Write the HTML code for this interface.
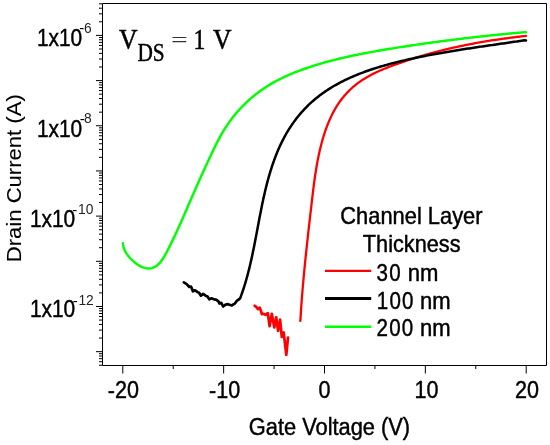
<!DOCTYPE html>
<html><head><meta charset="utf-8"><style>
html,body{margin:0;padding:0;background:#fff;width:550px;height:445px;overflow:hidden}
svg{display:block}
</style></head><body>
<svg width="550" height="445" viewBox="0 0 550 445"><path d="M102.5 3.5H546.5V365.5H102.5Z" fill="none" stroke="#000" stroke-width="1"/>
<path d="M99 365.26H102.5 M99 361.68H102.5 M99 358.66H102.5 M99 356.04H102.5 M99 353.73H102.5 M96 351.66H102.5 M99 338.06H102.5 M99 330.10H102.5 M99 324.46H102.5 M99 320.08H102.5 M99 316.50H102.5 M99 313.48H102.5 M99 310.86H102.5 M99 308.55H102.5 M96 306.48H102.5 M99 292.88H102.5 M99 284.92H102.5 M99 279.28H102.5 M99 274.90H102.5 M99 271.32H102.5 M99 268.30H102.5 M99 265.68H102.5 M99 263.37H102.5 M96 261.30H102.5 M99 247.70H102.5 M99 239.74H102.5 M99 234.10H102.5 M99 229.72H102.5 M99 226.14H102.5 M99 223.12H102.5 M99 220.50H102.5 M99 218.19H102.5 M96 216.12H102.5 M99 202.52H102.5 M99 194.56H102.5 M99 188.92H102.5 M99 184.54H102.5 M99 180.96H102.5 M99 177.94H102.5 M99 175.32H102.5 M99 173.01H102.5 M96 170.94H102.5 M99 157.34H102.5 M99 149.38H102.5 M99 143.74H102.5 M99 139.36H102.5 M99 135.78H102.5 M99 132.76H102.5 M99 130.14H102.5 M99 127.83H102.5 M96 125.76H102.5 M99 112.16H102.5 M99 104.20H102.5 M99 98.56H102.5 M99 94.18H102.5 M99 90.60H102.5 M99 87.58H102.5 M99 84.96H102.5 M99 82.65H102.5 M96 80.58H102.5 M99 66.98H102.5 M99 59.02H102.5 M99 53.38H102.5 M99 49.00H102.5 M99 45.42H102.5 M99 42.40H102.5 M99 39.78H102.5 M99 37.47H102.5 M96 35.40H102.5 M99 21.80H102.5 M99 13.84H102.5 M99 8.20H102.5 M99 3.82H102.5" stroke="#000" stroke-width="1"/>
<path d="M122.80 365.5V373.5 M173.22 365.5V369 M223.65 365.5V373.5 M274.07 365.5V369 M324.50 365.5V373.5 M374.93 365.5V369 M425.35 365.5V373.5 M475.77 365.5V369 M526.20 365.5V373.5" stroke="#000" stroke-width="1"/>
<path d="M254.7 305.8 L256.2 306.9 L258.0 309.1 L259.8 307.6 L260.9 310.9 L262.0 314.2 L263.8 313.8 L265.6 314.9 L267.8 313.1 L269.6 326.2 L271.8 313.8 L274.3 327.4 L276.2 317.3 L278.1 330.8 L280.1 319.6 L281.8 337.0 L283.7 332.5 L286.3 354.9 L288.0 337.5" fill="none" stroke="#f00" stroke-width="2.7" stroke-linejoin="round" stroke-linecap="round"/>
<path d="M300.30 320.90 L300.47 319.26 L300.56 317.78 L300.64 316.31 L300.73 314.83 L300.83 313.35 L300.92 311.87 L301.02 310.38 L301.12 308.90 L301.22 307.42 L301.32 305.93 L301.43 304.44 L301.53 302.96 L301.64 301.47 L301.75 299.98 L301.87 298.49 L301.98 296.99 L302.10 295.50 L302.22 294.01 L302.34 292.51 L302.46 291.02 L302.59 289.52 L302.71 288.02 L302.84 286.52 L302.97 285.02 L303.10 283.52 L303.24 282.02 L303.37 280.52 L303.51 279.02 L303.65 277.51 L303.78 276.01 L303.93 274.51 L304.07 273.00 L304.21 271.50 L304.36 269.99 L304.50 268.48 L304.65 266.98 L304.80 265.47 L304.95 263.96 L305.10 262.45 L305.25 260.94 L305.41 259.43 L305.56 257.92 L305.72 256.41 L305.87 254.90 L306.03 253.39 L306.19 251.88 L306.35 250.37 L306.51 248.86 L306.67 247.35 L306.84 245.84 L307.00 244.33 L307.16 242.82 L307.33 241.31 L307.49 239.79 L307.66 238.28 L307.83 236.77 L308.00 235.26 L308.16 233.75 L308.33 232.24 L308.50 230.73 L308.67 229.22 L308.84 227.71 L309.01 226.20 L309.18 224.69 L309.35 223.18 L309.53 221.67 L309.70 220.16 L309.87 218.65 L310.04 217.14 L310.22 215.63 L310.39 214.12 L310.56 212.62 L310.74 211.11 L310.91 209.60 L311.08 208.10 L311.26 206.59 L311.43 205.09 L311.60 203.59 L311.78 202.08 L311.95 200.58 L312.13 199.08 L312.30 197.58 L312.48 196.08 L312.65 194.58 L312.83 193.08 L313.01 191.58 L313.20 190.08 L313.38 188.59 L313.57 187.09 L313.76 185.60 L313.95 184.11 L314.15 182.61 L314.35 181.12 L314.56 179.63 L314.76 178.14 L314.98 176.65 L315.20 175.17 L315.42 173.68 L315.65 172.20 L315.88 170.71 L316.12 169.23 L316.36 167.75 L316.61 166.27 L316.87 164.79 L317.14 163.32 L317.41 161.84 L317.69 160.37 L317.97 158.90 L318.27 157.42 L318.57 155.95 L318.88 154.49 L319.20 153.02 L319.53 151.55 L319.87 150.09 L320.21 148.63 L320.57 147.17 L320.94 145.71 L321.31 144.25 L321.70 142.80 L322.10 141.34 L322.50 139.89 L322.92 138.44 L323.36 137.00 L323.80 135.55 L324.25 134.11 L324.72 132.67 L325.20 131.24 L325.70 129.81 L326.21 128.38 L326.73 126.97 L327.26 125.55 L327.82 124.15 L328.38 122.75 L328.96 121.36 L329.56 119.97 L330.18 118.60 L330.81 117.23 L331.45 115.87 L332.12 114.52 L332.80 113.18 L333.50 111.86 L334.22 110.54 L334.95 109.23 L335.71 107.94 L336.48 106.66 L337.28 105.39 L338.09 104.14 L338.93 102.90 L339.78 101.67 L340.66 100.46 L341.56 99.26 L342.48 98.08 L343.42 96.92 L344.38 95.77 L345.36 94.64 L346.36 93.53 L347.38 92.43 L348.42 91.35 L349.48 90.29 L350.56 89.26 L351.66 88.24 L352.77 87.24 L353.91 86.26 L355.06 85.30 L356.22 84.37 L357.41 83.46 L358.61 82.56 L359.82 81.69 L361.05 80.85 L362.30 80.02 L363.56 79.21 L364.83 78.42 L366.11 77.65 L367.41 76.90 L368.72 76.16 L370.04 75.44 L371.37 74.74 L372.72 74.05 L374.07 73.38 L375.43 72.72 L376.80 72.07 L378.18 71.44 L379.56 70.82 L380.96 70.21 L382.35 69.62 L383.76 69.03 L385.17 68.46 L386.59 67.89 L388.00 67.33 L389.43 66.78 L390.85 66.24 L392.28 65.71 L393.72 65.18 L395.15 64.66 L396.58 64.14 L398.02 63.63 L399.45 63.12 L400.89 62.62 L402.33 62.12 L403.77 61.63 L405.21 61.14 L406.65 60.66 L408.09 60.18 L409.53 59.71 L410.97 59.24 L412.41 58.77 L413.86 58.32 L415.30 57.86 L416.75 57.41 L418.20 56.97 L419.64 56.53 L421.09 56.10 L422.54 55.67 L423.99 55.24 L425.44 54.82 L426.89 54.41 L428.34 54.00 L429.80 53.59 L431.25 53.19 L432.70 52.79 L434.16 52.40 L435.61 52.01 L437.07 51.63 L438.53 51.26 L439.98 50.88 L441.44 50.51 L442.90 50.15 L444.36 49.79 L445.82 49.44 L447.28 49.09 L448.75 48.74 L450.21 48.40 L451.67 48.06 L453.14 47.73 L454.60 47.40 L456.07 47.08 L457.54 46.76 L459.01 46.44 L460.47 46.13 L461.94 45.82 L463.42 45.52 L464.89 45.22 L466.36 44.92 L467.83 44.63 L469.31 44.34 L470.78 44.05 L472.26 43.77 L473.73 43.50 L475.21 43.22 L476.69 42.95 L478.17 42.69 L479.65 42.43 L481.13 42.17 L482.62 41.91 L484.10 41.66 L485.58 41.41 L487.07 41.17 L488.56 40.93 L490.04 40.69 L491.53 40.46 L493.02 40.22 L494.51 40.00 L496.00 39.77 L497.49 39.55 L498.99 39.33 L500.48 39.12 L501.98 38.90 L503.48 38.69 L504.97 38.49 L506.47 38.28 L507.97 38.08 L509.47 37.89 L510.98 37.69 L512.48 37.50 L513.98 37.31 L515.49 37.12 L517.00 36.94 L518.50 36.76 L520.01 36.58 L521.52 36.41 L523.03 36.23 L524.55 36.06 L526.00 35.90" fill="none" stroke="#f00" stroke-width="2.3" stroke-linejoin="round" stroke-linecap="round"/>
<path d="M183.8 282.3 L186.7 284.1 L189.3 287.0 L191.1 286.6 L192.9 291.4 L195.1 290.3 L197.6 292.1 L199.1 292.8 L200.9 295.7 L203.1 293.9 L205.6 295.7 L207.5 296.5 L209.3 299.4 L211.5 298.3 L214.4 299.4 L216.5 299.9 L218.4 301.4 L219.5 303.5 L221.3 302.8 L223.1 306.5 L225.6 304.6 L228.0 304.2 L231.6 305.5 L234.7 303.7 L237.0 300.6 L239.2 299.2" fill="none" stroke="#000" stroke-width="2.7" stroke-linejoin="round" stroke-linecap="round"/>
<path d="M239.20 299.20 L240.26 298.00 L240.78 296.59 L241.30 295.18 L241.80 293.76 L242.30 292.35 L242.78 290.93 L243.26 289.50 L243.72 288.08 L244.18 286.65 L244.63 285.22 L245.06 283.79 L245.49 282.36 L245.92 280.92 L246.33 279.48 L246.73 278.04 L247.13 276.60 L247.52 275.16 L247.91 273.71 L248.28 272.26 L248.65 270.81 L249.02 269.36 L249.38 267.91 L249.73 266.45 L250.07 265.00 L250.41 263.54 L250.75 262.08 L251.08 260.62 L251.41 259.16 L251.73 257.69 L252.05 256.23 L252.36 254.76 L252.67 253.29 L252.98 251.83 L253.28 250.36 L253.58 248.88 L253.88 247.41 L254.17 245.94 L254.46 244.47 L254.75 242.99 L255.04 241.51 L255.32 240.04 L255.61 238.56 L255.89 237.08 L256.17 235.61 L256.45 234.13 L256.73 232.65 L257.01 231.17 L257.28 229.69 L257.56 228.21 L257.84 226.72 L258.12 225.24 L258.40 223.76 L258.68 222.28 L258.96 220.80 L259.24 219.32 L259.52 217.83 L259.80 216.35 L260.09 214.87 L260.38 213.39 L260.67 211.91 L260.96 210.43 L261.26 208.95 L261.55 207.47 L261.86 205.99 L262.16 204.51 L262.47 203.03 L262.78 201.55 L263.09 200.07 L263.41 198.59 L263.74 197.11 L264.07 195.64 L264.40 194.16 L264.74 192.69 L265.08 191.22 L265.43 189.74 L265.79 188.27 L266.15 186.80 L266.52 185.33 L266.89 183.86 L267.28 182.40 L267.67 180.93 L268.06 179.46 L268.47 178.00 L268.88 176.54 L269.30 175.08 L269.73 173.62 L270.16 172.17 L270.61 170.71 L271.06 169.26 L271.52 167.82 L272.00 166.37 L272.48 164.93 L272.97 163.49 L273.47 162.06 L273.98 160.63 L274.50 159.20 L275.03 157.78 L275.57 156.37 L276.12 154.95 L276.69 153.55 L277.26 152.15 L277.84 150.75 L278.44 149.36 L279.05 147.98 L279.67 146.60 L280.30 145.23 L280.94 143.86 L281.60 142.50 L282.27 141.15 L282.95 139.81 L283.65 138.47 L284.35 137.14 L285.07 135.82 L285.81 134.51 L286.56 133.21 L287.32 131.91 L288.09 130.62 L288.88 129.35 L289.69 128.08 L290.51 126.82 L291.34 125.57 L292.19 124.33 L293.05 123.10 L293.92 121.88 L294.81 120.67 L295.71 119.47 L296.63 118.28 L297.56 117.10 L298.50 115.94 L299.45 114.79 L300.42 113.64 L301.40 112.51 L302.39 111.40 L303.40 110.29 L304.41 109.20 L305.44 108.12 L306.48 107.05 L307.54 106.00 L308.60 104.96 L309.68 103.93 L310.77 102.92 L311.87 101.92 L312.98 100.94 L314.11 99.97 L315.24 99.01 L316.38 98.07 L317.54 97.15 L318.71 96.23 L319.88 95.33 L321.07 94.45 L322.27 93.57 L323.48 92.71 L324.69 91.87 L325.92 91.03 L327.15 90.21 L328.40 89.40 L329.65 88.61 L330.91 87.82 L332.19 87.05 L333.46 86.29 L334.75 85.54 L336.05 84.81 L337.35 84.08 L338.66 83.37 L339.98 82.67 L341.31 81.97 L342.64 81.29 L343.99 80.63 L345.33 79.97 L346.69 79.32 L348.05 78.68 L349.42 78.05 L350.79 77.44 L352.17 76.83 L353.56 76.23 L354.95 75.64 L356.35 75.07 L357.75 74.50 L359.16 73.94 L360.57 73.39 L361.99 72.84 L363.41 72.31 L364.84 71.79 L366.27 71.27 L367.70 70.76 L369.14 70.26 L370.58 69.77 L372.03 69.29 L373.48 68.81 L374.93 68.34 L376.39 67.88 L377.85 67.43 L379.31 66.98 L380.77 66.55 L382.24 66.11 L383.71 65.69 L385.18 65.27 L386.65 64.86 L388.13 64.45 L389.61 64.05 L391.08 63.66 L392.56 63.27 L394.04 62.89 L395.52 62.51 L397.00 62.14 L398.49 61.77 L399.97 61.41 L401.45 61.05 L402.93 60.70 L404.41 60.36 L405.90 60.01 L407.38 59.68 L408.86 59.34 L410.34 59.01 L411.82 58.69 L413.29 58.37 L414.77 58.05 L416.25 57.74 L417.73 57.43 L419.20 57.12 L420.68 56.82 L422.15 56.52 L423.62 56.22 L425.10 55.93 L426.57 55.64 L428.04 55.36 L429.52 55.07 L430.99 54.79 L432.46 54.52 L433.93 54.25 L435.40 53.98 L436.88 53.71 L438.35 53.44 L439.82 53.18 L441.29 52.92 L442.76 52.66 L444.23 52.41 L445.70 52.16 L447.17 51.91 L448.64 51.66 L450.11 51.41 L451.58 51.17 L453.06 50.93 L454.53 50.69 L456.00 50.45 L457.47 50.22 L458.94 49.98 L460.42 49.75 L461.89 49.52 L463.36 49.29 L464.84 49.06 L466.31 48.84 L467.79 48.61 L469.26 48.39 L470.74 48.16 L472.22 47.94 L473.70 47.72 L475.17 47.50 L476.65 47.28 L478.13 47.06 L479.61 46.84 L481.09 46.63 L482.58 46.41 L484.06 46.19 L485.54 45.98 L487.03 45.76 L488.52 45.55 L490.00 45.33 L491.49 45.12 L492.98 44.90 L494.47 44.69 L495.96 44.47 L497.46 44.25 L498.95 44.04 L500.45 43.82 L501.94 43.61 L503.44 43.39 L504.94 43.17 L506.44 42.95 L507.94 42.73 L509.45 42.51 L510.95 42.29 L512.46 42.07 L513.97 41.85 L515.48 41.63 L516.99 41.40 L518.50 41.18 L520.02 40.95 L521.53 40.72 L523.05 40.49 L524.57 40.26 L526.00 40.50" fill="none" stroke="#000" stroke-width="2.5" stroke-linejoin="round" stroke-linecap="round"/>
<path d="M122.90 243.30 L123.14 244.90 L123.38 246.31 L123.73 247.68 L124.19 249.03 L124.74 250.35 L125.39 251.64 L126.12 252.90 L126.94 254.14 L127.84 255.36 L128.80 256.56 L129.83 257.74 L130.92 258.89 L132.07 260.03 L133.26 261.13 L134.50 262.19 L135.78 263.21 L137.09 264.16 L138.42 265.05 L139.78 265.85 L141.15 266.57 L142.53 267.19 L143.91 267.70 L145.29 268.10 L146.67 268.37 L148.03 268.51 L149.37 268.52 L150.68 268.38 L151.96 268.10 L153.20 267.68 L154.40 267.14 L155.56 266.49 L156.68 265.72 L157.74 264.86 L158.76 263.90 L159.74 262.85 L160.69 261.74 L161.59 260.55 L162.47 259.31 L163.31 258.01 L164.13 256.68 L164.92 255.31 L165.70 253.91 L166.46 252.50 L167.20 251.08 L167.93 249.66 L168.65 248.25 L169.36 246.84 L170.07 245.43 L170.76 244.03 L171.45 242.64 L172.13 241.25 L172.80 239.86 L173.47 238.48 L174.13 237.10 L174.78 235.73 L175.43 234.36 L176.07 232.99 L176.70 231.62 L177.33 230.26 L177.95 228.90 L178.57 227.54 L179.19 226.19 L179.80 224.83 L180.41 223.48 L181.01 222.13 L181.61 220.78 L182.21 219.43 L182.80 218.08 L183.40 216.73 L183.99 215.38 L184.58 214.03 L185.16 212.69 L185.75 211.34 L186.34 209.99 L186.92 208.64 L187.51 207.29 L188.09 205.93 L188.68 204.58 L189.27 203.22 L189.86 201.86 L190.44 200.50 L191.04 199.14 L191.63 197.77 L192.23 196.40 L192.82 195.03 L193.42 193.66 L194.03 192.28 L194.63 190.90 L195.24 189.52 L195.85 188.14 L196.46 186.75 L197.07 185.37 L197.69 183.98 L198.31 182.59 L198.92 181.21 L199.55 179.82 L200.17 178.43 L200.79 177.04 L201.42 175.65 L202.05 174.26 L202.68 172.87 L203.31 171.48 L203.94 170.09 L204.58 168.70 L205.21 167.32 L205.85 165.93 L206.49 164.55 L207.13 163.17 L207.77 161.79 L208.41 160.42 L209.06 159.04 L209.70 157.67 L210.35 156.30 L210.99 154.94 L211.64 153.57 L212.29 152.21 L212.94 150.86 L213.59 149.51 L214.24 148.16 L214.90 146.82 L215.56 145.48 L216.23 144.14 L216.90 142.81 L217.57 141.49 L218.26 140.17 L218.95 138.85 L219.65 137.55 L220.36 136.24 L221.09 134.95 L221.82 133.66 L222.56 132.37 L223.32 131.10 L224.10 129.82 L224.88 128.56 L225.69 127.31 L226.51 126.06 L227.34 124.82 L228.19 123.58 L229.05 122.36 L229.93 121.14 L230.83 119.93 L231.74 118.73 L232.66 117.54 L233.60 116.36 L234.55 115.19 L235.51 114.03 L236.49 112.87 L237.48 111.73 L238.49 110.60 L239.51 109.48 L240.54 108.37 L241.58 107.26 L242.63 106.18 L243.70 105.10 L244.78 104.03 L245.87 102.98 L246.98 101.93 L248.09 100.90 L249.22 99.88 L250.35 98.88 L251.50 97.89 L252.66 96.91 L253.82 95.94 L255.00 94.99 L256.19 94.05 L257.39 93.12 L258.60 92.21 L259.81 91.31 L261.04 90.43 L262.27 89.56 L263.52 88.71 L264.77 87.87 L266.03 87.05 L267.30 86.24 L268.58 85.45 L269.86 84.67 L271.16 83.90 L272.46 83.14 L273.76 82.40 L275.08 81.68 L276.40 80.96 L277.73 80.26 L279.06 79.57 L280.40 78.89 L281.75 78.23 L283.10 77.57 L284.46 76.93 L285.82 76.30 L287.19 75.68 L288.56 75.07 L289.94 74.47 L291.32 73.88 L292.71 73.30 L294.10 72.73 L295.50 72.17 L296.90 71.62 L298.30 71.08 L299.71 70.55 L301.12 70.03 L302.53 69.51 L303.94 69.01 L305.36 68.51 L306.78 68.02 L308.21 67.54 L309.63 67.06 L311.06 66.59 L312.49 66.13 L313.92 65.68 L315.35 65.23 L316.78 64.79 L318.22 64.35 L319.66 63.93 L321.09 63.50 L322.53 63.09 L323.98 62.68 L325.42 62.28 L326.86 61.88 L328.31 61.49 L329.75 61.10 L331.20 60.72 L332.65 60.34 L334.10 59.97 L335.55 59.61 L337.01 59.25 L338.46 58.89 L339.92 58.54 L341.37 58.20 L342.83 57.86 L344.29 57.52 L345.75 57.19 L347.21 56.86 L348.68 56.54 L350.14 56.22 L351.60 55.91 L353.07 55.60 L354.54 55.29 L356.01 54.99 L357.47 54.69 L358.95 54.39 L360.42 54.10 L361.89 53.81 L363.36 53.53 L364.84 53.25 L366.31 52.97 L367.79 52.69 L369.26 52.42 L370.74 52.15 L372.22 51.88 L373.70 51.61 L375.18 51.35 L376.66 51.09 L378.14 50.83 L379.63 50.57 L381.11 50.32 L382.59 50.07 L384.08 49.82 L385.56 49.57 L387.05 49.32 L388.54 49.07 L390.02 48.83 L391.51 48.59 L393.00 48.34 L394.49 48.10 L395.98 47.87 L397.47 47.63 L398.96 47.39 L400.45 47.16 L401.95 46.92 L403.44 46.69 L404.93 46.46 L406.43 46.23 L407.92 46.00 L409.41 45.78 L410.91 45.55 L412.40 45.33 L413.90 45.10 L415.40 44.88 L416.89 44.66 L418.39 44.44 L419.88 44.23 L421.38 44.01 L422.88 43.80 L424.38 43.58 L425.87 43.37 L427.37 43.16 L428.87 42.95 L430.37 42.74 L431.87 42.54 L433.37 42.33 L434.86 42.13 L436.36 41.93 L437.86 41.72 L439.36 41.52 L440.86 41.33 L442.36 41.13 L443.86 40.93 L445.36 40.74 L446.86 40.54 L448.36 40.35 L449.85 40.16 L451.35 39.97 L452.85 39.78 L454.35 39.60 L455.85 39.41 L457.35 39.23 L458.85 39.04 L460.34 38.86 L461.84 38.68 L463.34 38.50 L464.84 38.32 L466.33 38.15 L467.83 37.97 L469.33 37.80 L470.82 37.62 L472.32 37.45 L473.81 37.28 L475.31 37.11 L476.80 36.94 L478.30 36.78 L479.79 36.61 L481.29 36.45 L482.78 36.29 L484.27 36.12 L485.76 35.96 L487.26 35.80 L488.75 35.65 L490.24 35.49 L491.73 35.34 L493.22 35.18 L494.71 35.03 L496.19 34.88 L497.68 34.73 L499.17 34.58 L500.66 34.43 L502.14 34.28 L503.63 34.14 L505.11 33.99 L506.59 33.85 L508.08 33.71 L509.56 33.57 L511.04 33.43 L512.52 33.29 L514.00 33.15 L515.48 33.02 L516.96 32.88 L518.43 32.75 L519.91 32.61 L521.38 32.48 L522.86 32.35 L524.33 32.22 L526.00 32.20" fill="none" stroke="#0f0" stroke-width="2.45" stroke-linejoin="round" stroke-linecap="round"/>
<text transform="translate(36.90,45.80) scale(0.86,1)" font-family="Liberation Sans, Arial, sans-serif" font-size="24.3" stroke="#000" stroke-width="0.45">1x10</text>
<text transform="translate(79.30,33.40) scale(1.0,1)" font-family="Liberation Sans, Arial, sans-serif" font-size="15">-</text>
<text transform="translate(84.10,33.00) scale(0.92,1)" font-family="Liberation Sans, Arial, sans-serif" font-size="15.0" fill="#222">6</text>
<text transform="translate(36.90,136.60) scale(0.86,1)" font-family="Liberation Sans, Arial, sans-serif" font-size="24.3" stroke="#000" stroke-width="0.45">1x10</text>
<text transform="translate(79.80,124.10) scale(1.0,1)" font-family="Liberation Sans, Arial, sans-serif" font-size="15">-</text>
<text transform="translate(83.90,122.90) scale(0.92,1)" font-family="Liberation Sans, Arial, sans-serif" font-size="15.0" fill="#222">8</text>
<text transform="translate(29.90,226.60) scale(0.86,1)" font-family="Liberation Sans, Arial, sans-serif" font-size="24.3" stroke="#000" stroke-width="0.45">1x10</text>
<text transform="translate(72.30,215.40) scale(1.0,1)" font-family="Liberation Sans, Arial, sans-serif" font-size="15">-</text>
<text transform="translate(78.10,214.40) scale(0.92,1)" font-family="Liberation Sans, Arial, sans-serif" font-size="15.0" fill="#222">10</text>
<text transform="translate(29.90,317.40) scale(0.86,1)" font-family="Liberation Sans, Arial, sans-serif" font-size="24.3" stroke="#000" stroke-width="0.45">1x10</text>
<text transform="translate(72.70,306.10) scale(1.0,1)" font-family="Liberation Sans, Arial, sans-serif" font-size="15">-</text>
<text transform="translate(78.40,305.20) scale(0.92,1)" font-family="Liberation Sans, Arial, sans-serif" font-size="15.0" fill="#222">12</text>
<text transform="translate(123.30,397.60) scale(0.88,1)" font-family="Liberation Sans, Arial, sans-serif" font-size="24.5" text-anchor="middle" stroke="#000" stroke-width="0.45">-20</text>
<text transform="translate(224.60,397.60) scale(0.88,1)" font-family="Liberation Sans, Arial, sans-serif" font-size="24.5" text-anchor="middle" stroke="#000" stroke-width="0.45">-10</text>
<text transform="translate(324.50,397.60) scale(0.88,1)" font-family="Liberation Sans, Arial, sans-serif" font-size="24.5" text-anchor="middle" stroke="#000" stroke-width="0.45">0</text>
<text transform="translate(426.40,397.60) scale(0.88,1)" font-family="Liberation Sans, Arial, sans-serif" font-size="24.5" text-anchor="middle" stroke="#000" stroke-width="0.45">10</text>
<text transform="translate(527.00,397.60) scale(0.88,1)" font-family="Liberation Sans, Arial, sans-serif" font-size="24.5" text-anchor="middle" stroke="#000" stroke-width="0.45">20</text>
<text transform="translate(248.80,434.80) scale(0.937,1)" font-family="Liberation Sans, Arial, sans-serif" font-size="23.3" stroke="#000" stroke-width="0.45">Gate Voltage (V)</text>
<text transform="translate(21,262.2) rotate(-90) scale(1.0,0.93)" font-family="Liberation Sans, Arial, sans-serif" font-size="21.5" textLength="168" lengthAdjust="spacingAndGlyphs" stroke="#000" stroke-width="0.1">Drain Current (A)</text>
<text transform="translate(119.00,49.30) scale(0.87,1)" font-family="Liberation Serif, Times New Roman, serif" font-size="29.5" stroke="#000" stroke-width="0.6">V</text>
<text transform="translate(137.40,60.60) scale(0.87,1)" font-family="Liberation Serif, Times New Roman, serif" font-size="24.5" stroke="#000" stroke-width="0.4">DS</text>
<text transform="translate(171.00,47.20) scale(1.36,1)" font-family="Liberation Serif, Times New Roman, serif" font-size="21.8" fill="#333">=</text>
<text transform="translate(193.60,49.20) scale(0.8,1)" font-family="Liberation Serif, Times New Roman, serif" font-size="29.5" stroke="#000" stroke-width="0.6">1</text>
<text transform="translate(213.00,49.20) scale(0.87,1)" font-family="Liberation Serif, Times New Roman, serif" font-size="29.5" stroke="#000" stroke-width="0.6">V</text>
<text transform="translate(340.30,223.60) scale(0.951,1)" font-family="Liberation Sans, Arial, sans-serif" font-size="23" stroke="#000" stroke-width="0.45">Channel Layer</text>
<text transform="translate(362.80,252.00) scale(0.944,1)" font-family="Liberation Sans, Arial, sans-serif" font-size="23" stroke="#000" stroke-width="0.45">Thickness</text>
<text transform="translate(376.60,281.10) scale(0.84,1)" font-family="Liberation Sans, Arial, sans-serif" font-size="24.5" stroke="#000" stroke-width="0.45" letter-spacing="1.4">30</text>
<text transform="translate(407.80,281.10) scale(0.96,1)" font-family="Liberation Sans, Arial, sans-serif" font-size="23" stroke="#000" stroke-width="0.45">nm</text>
<text transform="translate(376.80,308.80) scale(0.84,1)" font-family="Liberation Sans, Arial, sans-serif" font-size="24.5" stroke="#000" stroke-width="0.45" letter-spacing="1.4">100</text>
<text transform="translate(420.00,308.80) scale(0.96,1)" font-family="Liberation Sans, Arial, sans-serif" font-size="23" stroke="#000" stroke-width="0.45">nm</text>
<text transform="translate(376.60,335.80) scale(0.84,1)" font-family="Liberation Sans, Arial, sans-serif" font-size="24.5" stroke="#000" stroke-width="0.45" letter-spacing="1.4">200</text>
<text transform="translate(420.00,335.80) scale(0.96,1)" font-family="Liberation Sans, Arial, sans-serif" font-size="23" stroke="#000" stroke-width="0.45">nm</text>
<path d="M325 270.9H371.2" stroke="#f00" stroke-width="2.4"/>
<path d="M325 298.6H371.2" stroke="#000" stroke-width="3"/>
<path d="M325 326.7H371.2" stroke="#0f0" stroke-width="2.6"/></svg>
</body></html>
